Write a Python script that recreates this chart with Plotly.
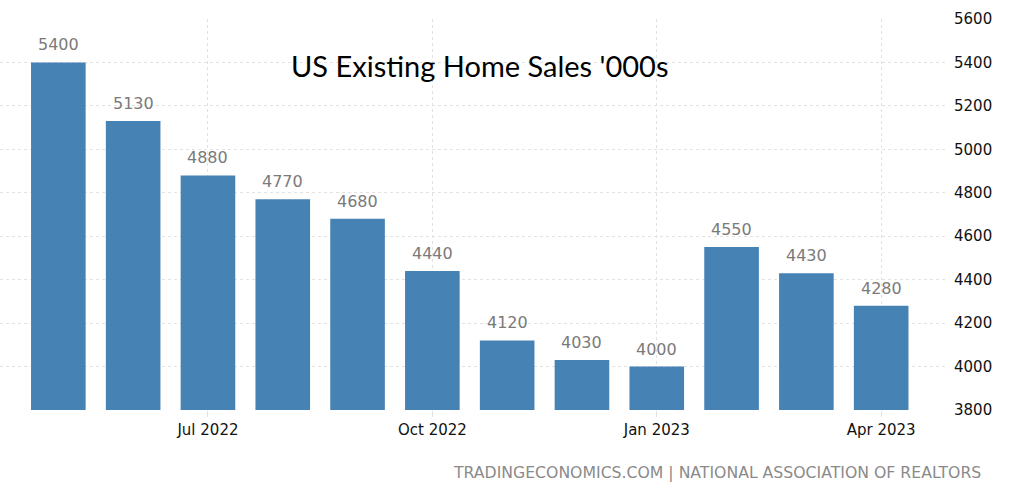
import plotly.graph_objects as go

months = ["May 2022", "Jun 2022", "Jul 2022", "Aug 2022", "Sep 2022", "Oct 2022",
          "Nov 2022", "Dec 2022", "Jan 2023", "Feb 2023", "Mar 2023", "Apr 2023"]
sales = [5400, 5130, 4880, 4770, 4680, 4440, 4120, 4030, 4000, 4550, 4430, 4280]
tick_labels = ["Jul 2022", "Oct 2022", "Jan 2023", "Apr 2023"]
y_ticks = [3800, 4000, 4200, 4400, 4600, 4800, 5000, 5200, 5400, 5600]

x_pos = list(range(len(months)))
tick_pos = [months.index(t) for t in tick_labels]

fig = go.Figure()
fig.add_trace(go.Bar(
    x=x_pos, y=sales, width=0.73,
    marker=dict(color="#4682B4", line=dict(width=0)),
    hoverinfo="skip",
))
for xi, v in zip(x_pos, sales):
    fig.add_annotation(
        x=xi, y=v, text=str(v), showarrow=False, xanchor="center",
        yanchor="bottom", yshift=6,
        font=dict(family="DejaVu Sans", size=16, color="#7a7a7a"),
    )

fig.update_layout(
    width=1012, height=493,
    margin=dict(l=0, r=65, t=19, b=83),
    paper_bgcolor="white", plot_bgcolor="white",
    showlegend=False,
    font=dict(family="DejaVu Sans", color="#111111"),
)
fig.update_xaxes(
    range=[-0.78, 11.88], tickvals=tick_pos, ticktext=tick_labels,
    showgrid=True, gridcolor="#e2e2e2", griddash="dot", gridwidth=1,
    ticks="outside", ticklen=6, tickcolor="#e2e2e2",
    tickfont=dict(family="DejaVu Sans", size=15, color="#111111"),
    zeroline=False, showline=False,
)
fig.update_yaxes(
    side="right", range=[3800, 5600], tickvals=y_ticks,
    showgrid=True, gridcolor="#e2e2e2", griddash="dot", gridwidth=1,
    tickfont=dict(family="DejaVu Sans", size=15, color="#111111"),
    zeroline=False, showline=False, ticks="", ticklabelstandoff=6,
)
fig.add_annotation(
    text="US Existing Home Sales '000s", xref="paper", yref="paper",
    x=480 / 947, y=(410 - 65) / 391, xanchor="center", yanchor="middle",
    showarrow=False, font=dict(family="Lato", size=29, color="#000000"),
)
fig.add_annotation(
    text="TRADINGECONOMICS.COM | NATIONAL ASSOCIATION OF REALTORS",
    xref="paper", yref="paper", x=983 / 947, y=(410 - 472) / 391,
    xanchor="right", yanchor="middle", showarrow=False,
    font=dict(family="DejaVu Sans", size=15.7, color="#8a8a8a"),
)
fig.write_html("out.html")
